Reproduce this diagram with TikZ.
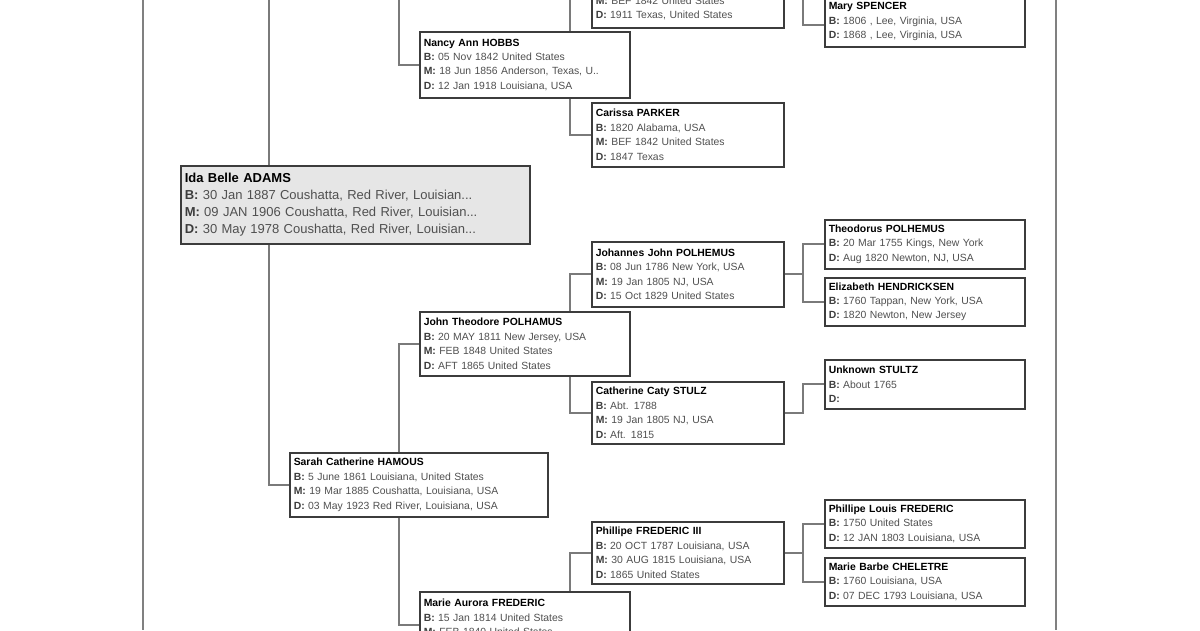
\documentclass[tikz,border=0pt]{standalone}
\usepackage{fontspec}
\setmainfont{Liberation Sans}
\definecolor{boxc}{HTML}{3C3C3C}
\definecolor{linec}{HTML}{7A7A7A}
\definecolor{valc}{HTML}{505050}
\definecolor{idafill}{HTML}{E6E6E6}
\newcommand{\fld}[2]{{\color{boxc}\bfseries #1:}\,\,{\color{valc}#2}}
\tikzset{
  pbox/.style={draw=boxc, line width=1.5pt, fill=white, anchor=north west, align=left,
    inner xsep=4pt, inner ysep=3pt, font=\fontsize{10.4}{14.4}\selectfont},
  conn/.style={draw=linec, line width=1.6pt},
}
\newcommand{\pers}[7]{% name x1 y1 x2 y2 title lines
  \node[pbox, text width={#4-#2-8}, minimum height={#5-#3}] (#1) at (#2,#3) {\textbf{#6}\\#7};}
\begin{document}
\begin{tikzpicture}[x=1pt,y=-1pt]
\useasboundingbox (0,0) rectangle (1200,630);
\fill[white] (0,0) rectangle (1200,630);
\draw[line width=1.2pt, draw=gray] (143,0) -- (143,630);
\draw[line width=1.2pt, draw=gray] (1056,0) -- (1056,630);

\pers{tm}{591}{-40}{783}{27}{Name}{\fld{B}{x}\\\fld{M}{BEF 1842 United States}\\\fld{D}{1911 Texas, United States}}
\pers{mary}{824}{-4}{1024}{46}{Mary SPENCER}{\fld{B}{1806 , Lee, Virginia, USA}\\\fld{D}{1868 , Lee, Virginia, USA}}
\pers{nancy}{419}{31}{629}{97}{Nancy Ann HOBBS}{\fld{B}{05 Nov 1842 United States}\\\fld{M}{18 Jun 1856 Anderson, Texas, U..}\\\fld{D}{12 Jan 1918 Louisiana, USA}}
\pers{carissa}{591}{102}{783}{166}{Carissa PARKER}{\fld{B}{1820 Alabama, USA}\\\fld{M}{BEF 1842 United States}\\\fld{D}{1847 Texas}}

\node[pbox, fill=idafill, text width=341pt, minimum height=78pt, inner ysep=3pt,
  font=\fontsize{13}{17}\selectfont] (ida) at (180,165)
  {\textbf{Ida Belle ADAMS}\\\fld{B}{30 Jan 1887 Coushatta, Red River, Louisian...}\\\fld{M}{09 JAN 1906 Coushatta, Red River, Louisian...}\\\fld{D}{30 May 1978 Coushatta, Red River, Louisian...}};

\pers{johannes}{591}{241}{783}{306}{Johannes John POLHEMUS}{\fld{B}{08 Jun 1786 New York, USA}\\\fld{M}{19 Jan 1805 NJ, USA}\\\fld{D}{15 Oct 1829 United States}}
\pers{theo}{824}{219}{1024}{268}{Theodorus POLHEMUS}{\fld{B}{20 Mar 1755 Kings, New York}\\\fld{D}{Aug 1820 Newton, NJ, USA}}
\pers{eliz}{824}{277}{1024}{325}{Elizabeth HENDRICKSEN}{\fld{B}{1760 Tappan, New York, USA}\\\fld{D}{1820 Newton, New Jersey}}
\pers{john}{419}{311}{629}{375}{John Theodore POLHAMUS}{\fld{B}{20 MAY 1811 New Jersey, USA}\\\fld{M}{FEB 1848 United States}\\\fld{D}{AFT 1865 United States}}
\pers{cath}{591}{381}{783}{443}{Catherine Caty STULZ}{\fld{B}{Abt. 1788}\\\fld{M}{19 Jan 1805 NJ, USA}\\\fld{D}{Aft. 1815}}
\pers{unk}{824}{359}{1024}{408}{Unknown STULTZ}{\fld{B}{About 1765}\\\fld{D}{}}
\pers{sarah}{289}{452}{547}{516}{Sarah Catherine HAMOUS}{\fld{B}{5 June 1861 Louisiana, United States}\\\fld{M}{19 Mar 1885 Coushatta, Louisiana, USA}\\\fld{D}{03 May 1923 Red River, Louisiana, USA}}
\pers{phil}{591}{521}{783}{583}{Phillipe FREDERIC III}{\fld{B}{20 OCT 1787 Louisiana, USA}\\\fld{M}{30 AUG 1815 Louisiana, USA}\\\fld{D}{1865 United States}}
\pers{phl}{824}{499}{1024}{547}{Phillipe Louis FREDERIC}{\fld{B}{1750 United States}\\\fld{D}{12 JAN 1803 Louisiana, USA}}
\pers{mb}{824}{557}{1024}{605}{Marie Barbe CHELETRE}{\fld{B}{1760 Louisiana, USA}\\\fld{D}{07 DEC 1793 Louisiana, USA}}
\pers{aurora}{419}{591}{629}{657}{Marie Aurora FREDERIC}{\fld{B}{15 Jan 1814 United States}\\\fld{M}{FEB 1840 United States}\\\fld{D}{}}

% connectors
\coordinate (topA) at (269,0);
\coordinate (topB) at (399,0);
\coordinate (topC) at (570,0);
\coordinate (topD) at (803,0);
\draw[conn] (topA) -- (topA |- ida.north);
\draw[conn] (topA |- ida.south) |- (sarah.west);
\draw[conn] (topB) |- (nancy.west);
\draw[conn] (topC) -- (topC |- nancy.north);
\draw[conn] (topC |- nancy.south) |- (carissa.west);
\draw[conn] (topD) -- (803,25) -- (mary.west |- 0,25);
\draw[conn] (topB |- sarah.north) |- (john.west);
\draw[conn] (topB |- sarah.south) |- (aurora.west);
\draw[conn] (topC |- john.north) |- (johannes.west);
\draw[conn] (topC |- john.south) |- (cath.west);
\draw[conn] (topC |- aurora.north) |- (phil.west);
\draw[conn] (johannes.east) -- (topD |- johannes.east);
\draw[conn] (theo.west) -| (topD |- johannes.east) |- (eliz.west);
\draw[conn] (cath.east) -- (topD |- cath.east) |- (unk.west);
\draw[conn] (phil.east) -- (topD |- phil.east);
\draw[conn] (phl.west) -| (topD |- phil.east) |- (mb.west);
\end{tikzpicture}
\end{document}
